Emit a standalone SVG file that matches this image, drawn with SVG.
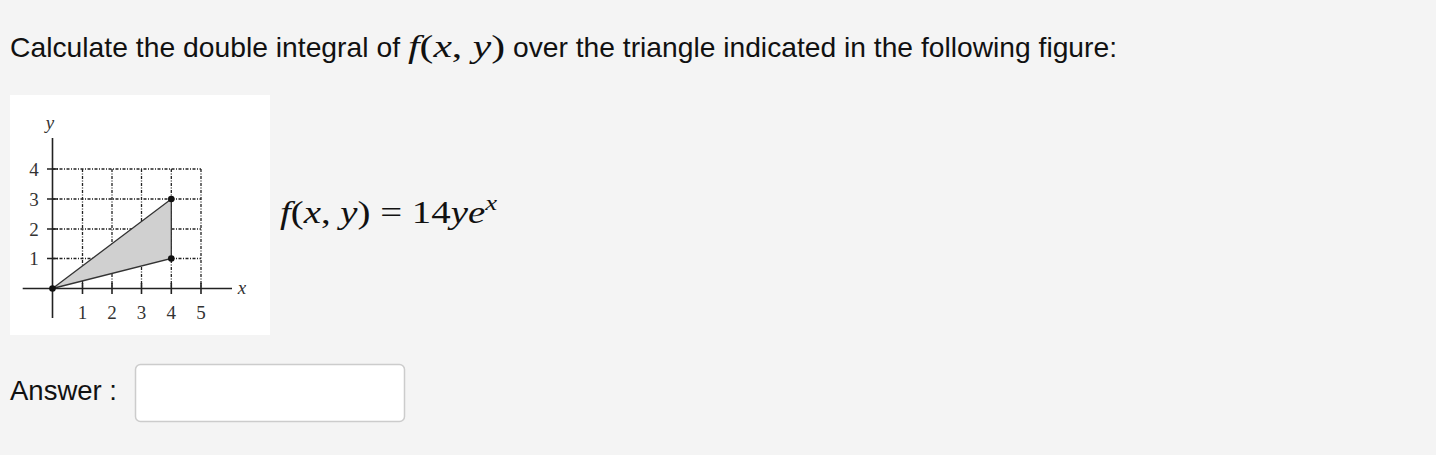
<svg xmlns="http://www.w3.org/2000/svg" width="1436" height="455" viewBox="0 0 1436 455">
<style>
.t{font-family:"Liberation Sans",Arial,sans-serif;font-size:28px;fill:#111}
.m{font-family:"Liberation Serif","Times New Roman",serif;fill:#111}
.g{stroke:#222;stroke-width:1.3;stroke-dasharray:3 1.5 1 1.5;fill:none}
.ax{stroke:#222;stroke-width:1.6;fill:none}
.n{font-family:"Liberation Serif","Times New Roman",serif;font-size:19px;fill:#333}
</style>
<rect width="1436" height="455" fill="#f4f4f4"/>
<g id="title">
<text x="10" y="57" class="t" textLength="390" lengthAdjust="spacingAndGlyphs">Calculate the double integral of</text>
<text x="408" y="57" class="m" font-size="32" textLength="97" lengthAdjust="spacingAndGlyphs"><tspan font-style="italic">f</tspan>(<tspan font-style="italic">x</tspan>, <tspan font-style="italic">y</tspan>)</text>
<text x="513" y="57" class="t" textLength="604" lengthAdjust="spacingAndGlyphs">over the triangle indicated in the following figure:</text>
</g>
<g id="figure">
<rect x="10" y="95" width="260" height="240" fill="#fff"/>
<g class="g">
<path d="M52.5 169H201M52.5 199H201M52.5 229H201M52.5 258.5H201"/>
<path d="M82.5 169V288.5M112 169V288.5M141.5 169V288.5M171.3 169V288.5M201 169V288.5"/>
</g>
<polygon points="52.5,288.5 171.3,199 171.3,258.5" fill="#d0d0d0" stroke="#333" stroke-width="1.3"/>
<g class="ax">
<path d="M52.5 138V318M22.7 288.5H232"/>
<path d="M82.5 283V294M112 283V294M141.5 283V294M171.3 283V294M201 283V294"/>
<path d="M47 169H58M47 199H58M47 229H58M47 258.5H58"/>
</g>
<circle cx="52.5" cy="288.5" r="3.3" fill="#111"/>
<circle cx="171.3" cy="199" r="3.3" fill="#111"/>
<circle cx="171.3" cy="258.5" r="3.3" fill="#111"/>
<text x="50" y="129" class="n" font-size="21" font-style="italic" text-anchor="middle">y</text>
<text x="242" y="294" class="n" font-size="21" font-style="italic" text-anchor="middle">x</text>
<g text-anchor="middle">
<text x="34" y="176" class="n">4</text>
<text x="34" y="206" class="n">3</text>
<text x="34" y="236" class="n">2</text>
<text x="34" y="265" class="n">1</text>
<text x="82.5" y="319" class="n">1</text>
<text x="112" y="319" class="n">2</text>
<text x="141.5" y="319" class="n">3</text>
<text x="171.3" y="319" class="n">4</text>
<text x="201" y="319" class="n">5</text>
</g>
</g>
<g id="formula">
<text x="280" y="223" class="m" font-size="32" textLength="217" lengthAdjust="spacingAndGlyphs"><tspan font-style="italic">f</tspan>(<tspan font-style="italic">x</tspan>, <tspan font-style="italic">y</tspan>) = 14<tspan font-style="italic">ye</tspan><tspan font-style="italic" font-size="22" dy="-13">x</tspan></text>
</g>
<g id="answer">
<text x="10" y="400" class="t" font-size="27" textLength="107" lengthAdjust="spacingAndGlyphs">Answer :</text>
<rect x="135.5" y="364.5" width="269" height="57" rx="5" fill="#fff" stroke="#ccc" stroke-width="1.5"/>
</g>
</svg>
